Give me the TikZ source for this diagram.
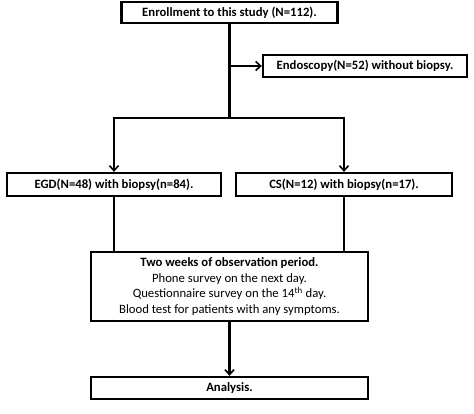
\documentclass[tikz,border=0pt]{standalone}
\usepackage{fontspec}
\setmainfont{Carlito}
\usetikzlibrary{arrows.meta}
\begin{document}
\begin{tikzpicture}[x=1pt,y=-1pt,
  box/.style={draw,line width=2.3pt,inner sep=0pt,align=center,font=\fontsize{12.7}{15.5}\selectfont},
  conn/.style={line width=2.1pt},
  arr/.style={conn,-{Straight Barb[length=5pt,width=9pt,line width=1.6pt]}}]
\useasboundingbox (0,0) rectangle (474,414);
\node[box,minimum width=216pt,minimum height=21pt] (top) at (229.5,12.5) {\bfseries Enrollment to this study (N=112).};
\node[box,minimum width=204pt,minimum height=22pt] (endo) at (365,66) {\bfseries Endoscopy(N=52) without biopsy.};
\node[box,minimum width=214pt,minimum height=23pt] (egd) at (114,184.5) {\bfseries EGD(N=48) with biopsy(n=84).};
\node[box,minimum width=216pt,minimum height=23pt] (cs) at (344,184.5) {\bfseries CS(N=12) with biopsy(n=17).};
\node[box,minimum width=277pt,minimum height=69pt] (obs) at (229.5,286.5) {\textbf{Two weeks of observation period.}\\Phone survey on the next day.\\Questionnaire survey on the 14\textsuperscript{th} day.\\Blood test for patients with any symptoms.};
\node[box,minimum width=277pt,minimum height=22pt] (ana) at (229.5,388) {\bfseries Analysis.};
\coordinate (j) at (229.5,118);
\draw[conn] (top.south) -- (j);
\draw[arr] (top.south |- endo.west) -- (endo.west);
\draw[arr] (j) -| (egd.north);
\draw[arr] (j) -| (cs.north);
\draw[conn] (egd.south) -- (egd.south |- obs.north);
\draw[conn] (cs.south) -- (cs.south |- obs.north);
\draw[arr] (obs.south) -- (ana.north);
\end{tikzpicture}
\end{document}
